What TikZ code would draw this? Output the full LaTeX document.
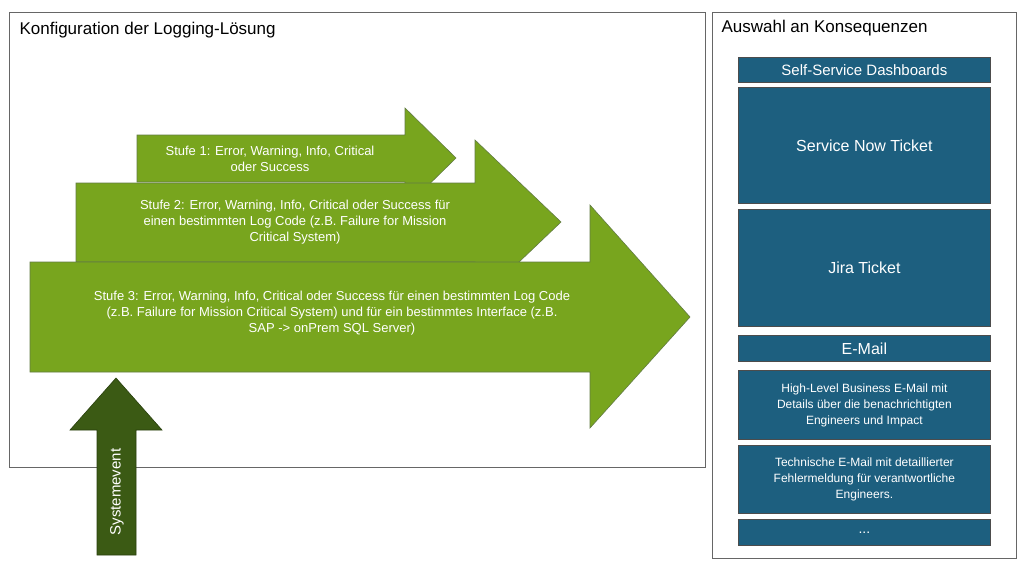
\documentclass[tikz,border=0pt]{standalone}
\usepackage{fontspec}
\setmainfont{Liberation Sans}
\begin{document}
\begin{tikzpicture}[x=1pt,y=-1pt,
 frame/.style={draw=black!60,line width=0.8pt,fill=white},
 garrow/.style={fill=green!45!black!80!yellow,draw=green!30!black,line width=0.6pt},
 gtext/.style={text=white,font=\fontsize{13}{16}\selectfont,align=center},
 bbox/.style={fill=cyan!40!blue!50!black!85,draw=black!70,line width=0.8pt,text=white,align=center},
 ttl/.style={anchor=west,font=\fontsize{17}{20}\selectfont}]
\definecolor{gfill}{HTML}{78A51E}
\definecolor{gdark}{HTML}{3B5A14}
\definecolor{bfill}{HTML}{1D5F7F}
\tikzset{garrow/.style={fill=gfill,draw=gdark!80,line width=0.6pt},bbox/.style={fill=bfill,draw=black!70,line width=0.8pt,text=white,align=center}}
\useasboundingbox (0,0) rectangle (1024,568);
\fill[white] (0,0) rectangle (1024,568);
\node[frame,minimum width=696pt,minimum height=455pt,anchor=north west] (lf) at (9,12) {};
\node[ttl] (lt) at (16,30) {Konfiguration der Logging-Lösung};
\node[frame,minimum width=304pt,minimum height=546pt,anchor=north west] (rf) at (712,12) {};
\node[ttl] (rt) at (718,28) {Auswahl an Konsequenzen};
% green arrows
\draw[garrow] (137,135) -- (405,135) -- (405,108) -- (456,158) -- (405,208) -- (405,182) -- (137,182) -- cycle;
\node[gtext] (a1) at (270,159) {Stufe 1: Error, Warning, Info, Critical\\oder Success};
\draw[garrow] (76,183) -- (475,183) -- (475,140) -- (561,222) -- (475,304) -- (475,262) -- (76,262) -- cycle;
\node[gtext] (a2) at (295,222) {Stufe 2: Error, Warning, Info, Critical oder Success für\\einen bestimmten Log Code (z.B. Failure for Mission\\Critical System)};
\draw[garrow] (30,262) -- (590,262) -- (590,205) -- (690,317) -- (590,428) -- (590,372) -- (30,372) -- cycle;
\node[gtext] (a3) at (332,313) {Stufe 3: Error, Warning, Info, Critical oder Success für einen bestimmten Log Code\\(z.B. Failure for Mission Critical System) und für ein bestimmtes Interface (z.B.\\SAP -> onPrem SQL Server)};
% system event
\draw[fill=gdark,draw=gdark!70!black,line width=0.6pt] (97,555) -- (97,430) -- (70,430) -- (116,378) -- (162,430) -- (136,430) -- (136,555) -- cycle;
\node[text=white,rotate=90,font=\fontsize{15}{18}\selectfont] (se) at (117,492) {Systemevent};
% blue boxes
\node[bbox,minimum width=252pt,minimum height=25pt,anchor=north west,font=\fontsize{15}{18}\selectfont] (b1) at (738,57) {Self-Service Dashboards};
\node[bbox,minimum width=252pt,minimum height=116pt,anchor=north west,font=\fontsize{16}{19}\selectfont] (b2) at (738,87) {Service Now Ticket};
\node[bbox,minimum width=252pt,minimum height=117pt,anchor=north west,font=\fontsize{16}{19}\selectfont] (b3) at (738,209) {Jira Ticket};
\node[bbox,minimum width=252pt,minimum height=26pt,anchor=north west,font=\fontsize{16}{19}\selectfont] (b4) at (738,335) {E-Mail};
\node[bbox,minimum width=252pt,minimum height=69pt,anchor=north west,font=\fontsize{12}{16}\selectfont] (b5) at (738,370) {High-Level Business E-Mail mit\\Details über die benachrichtigten\\Engineers und Impact};
\node[bbox,minimum width=252pt,minimum height=68pt,anchor=north west,font=\fontsize{12}{16}\selectfont] (b6) at (738,445) {Technische E-Mail mit detaillierter\\Fehlermeldung für verantwortliche\\Engineers.};
\node[bbox,minimum width=252pt,minimum height=26pt,anchor=north west,font=\fontsize{14}{17}\selectfont] (b7) at (738,519) {...};
\end{tikzpicture}
\end{document}
